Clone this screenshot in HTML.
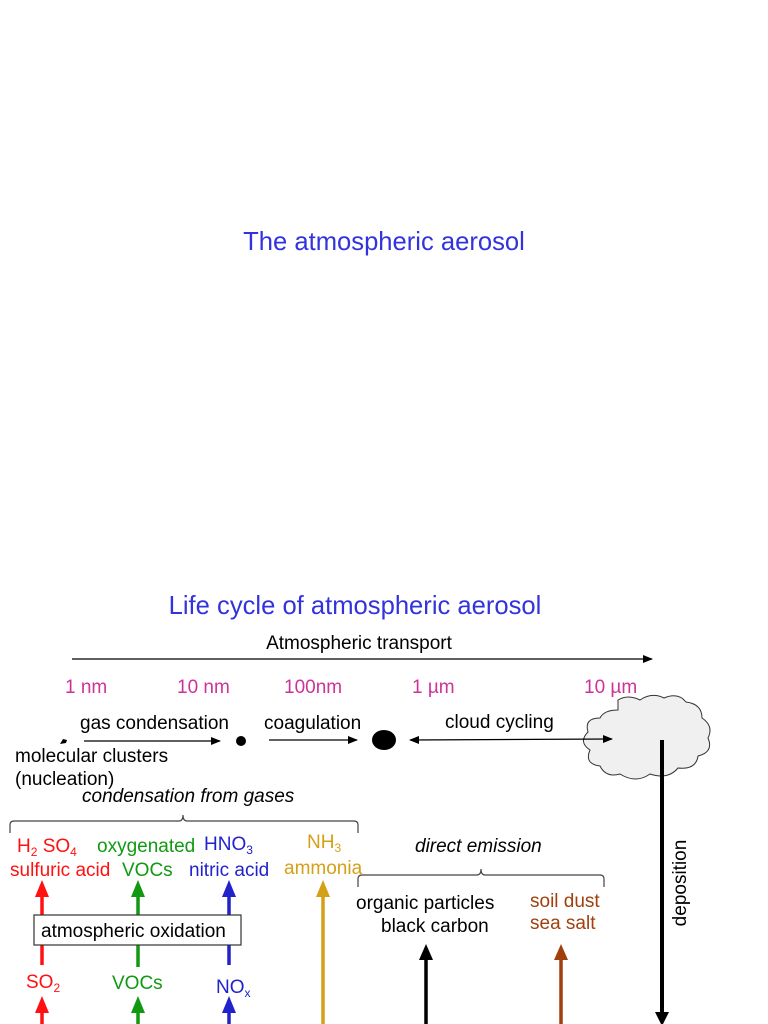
<!DOCTYPE html>
<html><head><meta charset="utf-8"><style>
html,body{margin:0;padding:0;background:#fff;}
svg{display:block;font-family:"Liberation Sans",sans-serif;}
</style></head><body>
<svg width="768" height="1024" viewBox="0 0 768 1024" xmlns="http://www.w3.org/2000/svg">
<defs>
<marker id="a" markerWidth="10" markerHeight="8" refX="9" refY="4" orient="auto" markerUnits="userSpaceOnUse"><path d="M0,0 L10,4 L0,8 z" fill="#000"/></marker>
<marker id="ab" markerWidth="10" markerHeight="8" refX="1" refY="4" orient="auto" markerUnits="userSpaceOnUse"><path d="M10,0 L0,4 L10,8 z" fill="#000"/></marker>
</defs>
<text x="384" y="250" font-size="25.6" fill="#3333dd" text-anchor="middle">The atmospheric aerosol</text>
<text x="355" y="614" font-size="25.6" fill="#3333dd" text-anchor="middle">Life cycle of atmospheric aerosol</text>
<text x="359" y="649" font-size="19" text-anchor="middle">Atmospheric transport</text>
<line x1="72" y1="659" x2="652" y2="659" stroke="#000" stroke-width="1.2" marker-end="url(#a)"/>
<g font-size="19" fill="#cc3399">
<text x="65" y="693">1 nm</text><text x="177" y="693">10 nm</text><text x="284" y="693">100nm</text><text x="412" y="693">1 µm</text><text x="584" y="693">10 µm</text>
</g>
<g font-size="19">
<text x="80" y="729">gas condensation</text>
<text x="264" y="729">coagulation</text>
<text x="445" y="728">cloud cycling</text>
<text x="15" y="762">molecular clusters</text>
<text x="15" y="785">(nucleation)</text>
<text x="82" y="802" font-style="italic">condensation from gases</text>
<text x="415" y="852" font-style="italic">direct emission</text>
<text x="356" y="909">organic particles</text>
<text x="381" y="932">black carbon</text>
</g>
<path d="M60,744 l3,-5 l4,1 l-1,3 z" fill="#000"/>
<line x1="84" y1="741" x2="220" y2="741" stroke="#000" stroke-width="1.3" marker-end="url(#a)"/>
<circle cx="241" cy="741" r="5" fill="#000"/>
<line x1="269" y1="740" x2="357" y2="740" stroke="#000" stroke-width="1.3" marker-end="url(#a)"/>
<ellipse cx="384" cy="740" rx="12" ry="10" fill="#000"/>
<g transform="translate(6,0)">
<path d="M612,700 q10,-6 22,0 q12,-8 24,-2 q14,-6 22,4 q16,2 16,16 q12,8 6,20 q6,14 -10,18 q-2,14 -20,12 q-10,12 -28,6 q-14,10 -30,0 q-14,4 -20,-8 q-16,-2 -10,-16 q-12,-8 -2,-18 q-4,-14 12,-14 q4,-8 18,-8 z" fill="#f0f0f0" stroke="#333" stroke-width="1"/>
</g>
<line x1="410" y1="740" x2="612" y2="739" stroke="#000" stroke-width="1.3" marker-start="url(#ab)" marker-end="url(#a)"/>
<line x1="662" y1="740" x2="662" y2="1012" stroke="#000" stroke-width="4"/>
<path d="M655,1012 L669,1012 L662,1026 z" fill="#000"/>
<text transform="translate(686,883) rotate(-90)" font-size="19" text-anchor="middle">deposition</text>
<path d="M10,833 v-8 q0,-4 4,-4 h165 q4,0 4,-6 q0,6 4,6 h167 q4,0 4,4 v8" fill="none" stroke="#444" stroke-width="1.2"/>
<path d="M358,887 v-8 q0,-4 4,-4 h115 q4,0 4,-6 q0,6 4,6 h115 q4,0 4,4 v8" fill="none" stroke="#444" stroke-width="1.2"/>
<g font-size="19">
<text x="17" y="852" fill="#ff1111">H<tspan font-size="12" dy="4">2</tspan><tspan dy="-4"> SO</tspan><tspan font-size="12" dy="4">4</tspan></text>
<text x="10" y="876" fill="#ff1111">sulfuric acid</text>
<text x="97" y="852" fill="#119911">oxygenated</text>
<text x="122" y="876" fill="#119911">VOCs</text>
<text x="204" y="850" fill="#2222cc">HNO<tspan font-size="12" dy="4">3</tspan></text>
<text x="189" y="876" fill="#2222cc">nitric acid</text>
<text x="307" y="848" fill="#d4a017">NH<tspan font-size="12" dy="4">3</tspan></text>
<text x="284" y="874" fill="#d4a017">ammonia</text>
<text x="530" y="907" fill="#a0410d">soil dust</text>
<text x="530" y="929" fill="#a0410d">sea salt</text>
<text x="26" y="988" fill="#ff1111">SO<tspan font-size="12" dy="4">2</tspan></text>
<text x="112" y="989" fill="#119911">VOCs</text>
<text x="216" y="993" fill="#2222cc">NO<tspan font-size="12" dy="4">x</tspan></text>
</g>
<g stroke-width="3.5">
<line x1="42" y1="895" x2="42" y2="965" stroke="#ff1111"/>
<line x1="138" y1="895" x2="138" y2="967" stroke="#119911"/>
<line x1="229" y1="895" x2="229" y2="965" stroke="#2222cc"/>
<line x1="323" y1="895" x2="323" y2="1024" stroke="#d4a017"/>
<line x1="42" y1="1010" x2="42" y2="1024" stroke="#ff1111"/>
<line x1="138" y1="1010" x2="138" y2="1024" stroke="#119911"/>
<line x1="229" y1="1010" x2="229" y2="1024" stroke="#2222cc"/>
<line x1="426" y1="958" x2="426" y2="1024" stroke="#000"/>
<line x1="561" y1="958" x2="561" y2="1024" stroke="#a0410d"/>
</g>
<path d="M35,897 L49,897 L42,880 z" fill="#ff1111"/>
<path d="M131,897 L145,897 L138,880 z" fill="#119911"/>
<path d="M222,897 L236,897 L229,880 z" fill="#2222cc"/>
<path d="M316,897 L330,897 L323,880 z" fill="#d4a017"/>
<path d="M35,1013 L49,1013 L42,996 z" fill="#ff1111"/>
<path d="M131,1013 L145,1013 L138,996 z" fill="#119911"/>
<path d="M222,1013 L236,1013 L229,996 z" fill="#2222cc"/>
<path d="M419,960 L433,960 L426,944 z" fill="#000"/>
<path d="M554,960 L568,960 L561,944 z" fill="#a0410d"/>
<rect x="34" y="915" width="207" height="30" fill="#fff" stroke="#333" stroke-width="1.2"/>
<text x="41" y="937" font-size="19">atmospheric oxidation</text>
</svg>
</body></html>
